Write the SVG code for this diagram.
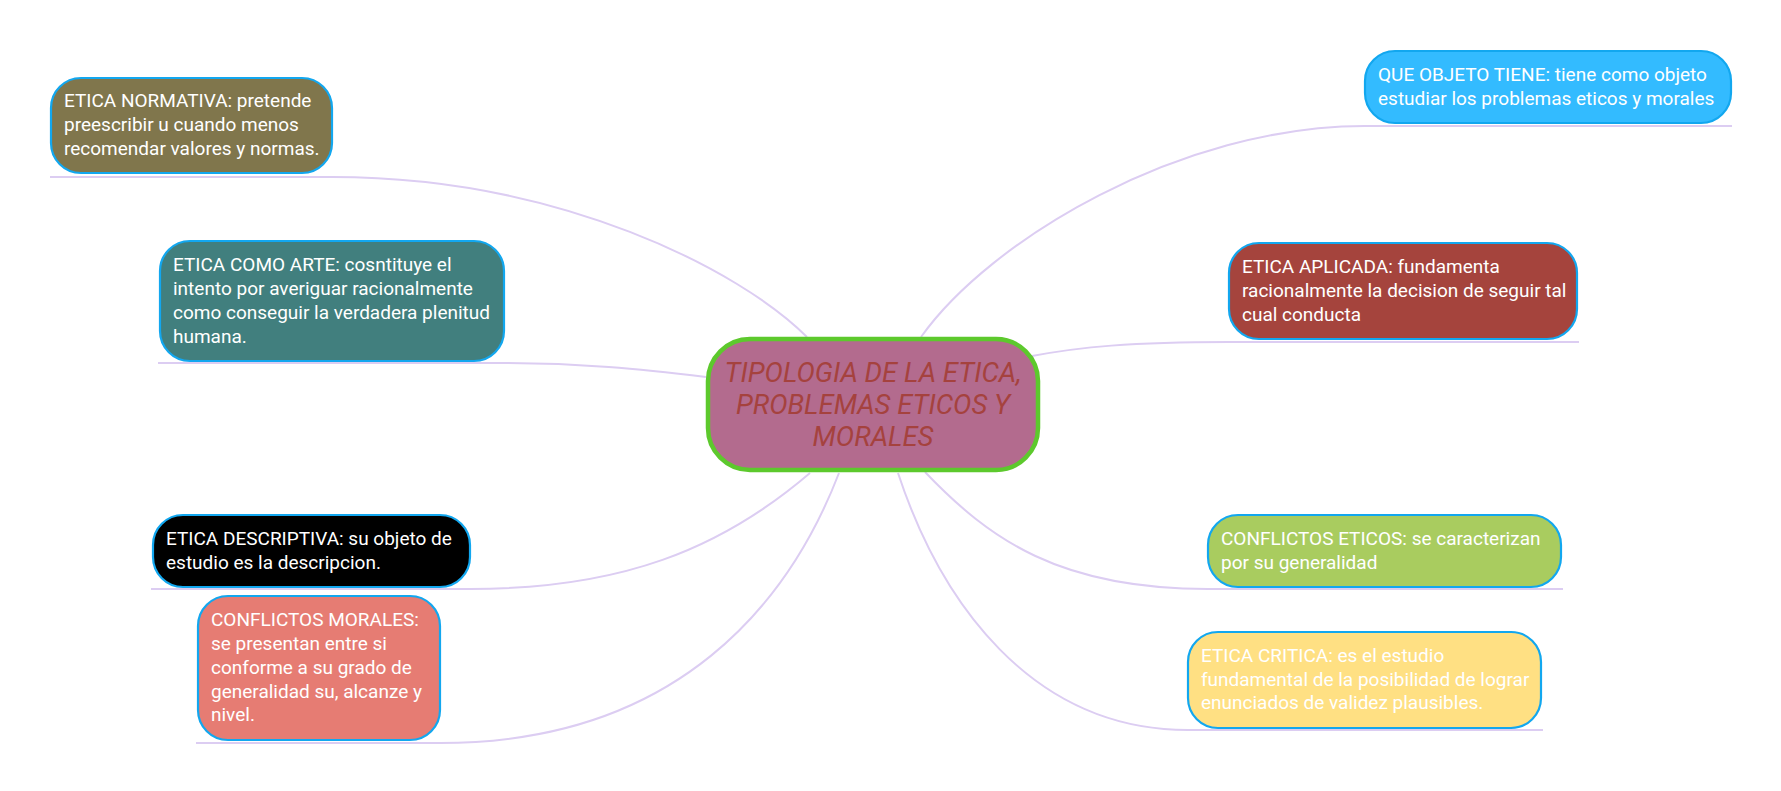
<svg xmlns="http://www.w3.org/2000/svg" width="1781" height="791" viewBox="0 0 1781 791">
<style>
.bg{fill:#ffffff}
.con{fill:none;stroke:#dccdf2;stroke-width:2}
.node{stroke:#12a7ef;stroke-width:2.2}
.t{font-family:Roboto,"Liberation Sans",sans-serif;font-size:19px;fill:#ffffff}
.ct{font-family:Roboto,"Liberation Sans",sans-serif;font-size:27.5px;font-style:italic;fill:#a5423e;text-anchor:middle}
</style>
<rect class="bg" x="0" y="0" width="1781" height="791"/>
<g id="connectors">
<path class="con" d="M807,337 C740,270 560,177 332,177 L50,177"/>
<path class="con" d="M706,377 C640,369 580,363 504,363 L158,363"/>
<path class="con" d="M921,337 C990,240 1180,126 1365,126 L1732,126"/>
<path class="con" d="M1032,356 C1080,347 1130,342 1229,342 L1579,342"/>
<path class="con" d="M810,473 C720,550 620,589 470,589 L151,589"/>
<path class="con" d="M839,473 C790,600 680,743 440,743 L196,743"/>
<path class="con" d="M925,472 C990,540 1060,589 1208,589 L1563,589"/>
<path class="con" d="M898,473 C940,600 1030,730 1188,730 L1543,730"/>
</g>
<g id="central">
<rect x="708" y="339" width="330" height="131" rx="42" fill="#b36b8e" stroke="#5dc92d" stroke-width="4.5"/>
<text class="ct" x="873" y="382">TIPOLOGIA DE LA ETICA,</text>
<text class="ct" x="873" y="414">PROBLEMAS ETICOS Y</text>
<text class="ct" x="873" y="446">MORALES</text>
</g>
<g id="normativa">
<rect class="node" x="51" y="78" width="281" height="95" rx="30" fill="#80764c"/>
<text class="t" x="64" y="107">ETICA NORMATIVA: pretende</text>
<text class="t" x="64" y="131">preescribir u cuando menos</text>
<text class="t" x="64" y="155">recomendar valores y normas.</text>
</g>
<g id="como-arte">
<rect class="node" x="160" y="241" width="344" height="120" rx="30" fill="#417f7e"/>
<text class="t" x="173" y="271">ETICA COMO ARTE: cosntituye el</text>
<text class="t" x="173" y="295">intento por averiguar racionalmente</text>
<text class="t" x="173" y="319">como conseguir la verdadera plenitud</text>
<text class="t" x="173" y="343">humana.</text>
</g>
<g id="que-objeto">
<rect class="node" x="1365" y="51" width="366" height="72" rx="30" fill="#33bbff"/>
<text class="t" x="1378" y="81">QUE OBJETO TIENE: tiene como objeto</text>
<text class="t" x="1378" y="105">estudiar los problemas eticos y morales</text>
</g>
<g id="aplicada">
<rect class="node" x="1229" y="243" width="348" height="96" rx="30" fill="#a5443d"/>
<text class="t" x="1242" y="273">ETICA APLICADA: fundamenta</text>
<text class="t" x="1242" y="297">racionalmente la decision de seguir tal</text>
<text class="t" x="1242" y="321">cual conducta</text>
</g>
<g id="descriptiva">
<rect class="node" x="153" y="515" width="317" height="72" rx="30" fill="#000000"/>
<text class="t" x="166" y="545">ETICA DESCRIPTIVA: su objeto de</text>
<text class="t" x="166" y="569">estudio es la descripcion.</text>
</g>
<g id="conflictos-morales">
<rect class="node" x="198" y="596" width="242" height="144" rx="30" fill="#e67c73"/>
<text class="t" x="211" y="626">CONFLICTOS MORALES:</text>
<text class="t" x="211" y="650">se presentan entre si</text>
<text class="t" x="211" y="674">conforme a su grado de</text>
<text class="t" x="211" y="698">generalidad su, alcanze y</text>
<text class="t" x="211" y="721">nivel.</text>
</g>
<g id="conflictos-eticos">
<rect class="node" x="1208" y="515" width="353" height="72" rx="30" fill="#a9cc5f"/>
<text class="t" x="1221" y="545">CONFLICTOS ETICOS: se caracterizan</text>
<text class="t" x="1221" y="569">por su generalidad</text>
</g>
<g id="critica">
<rect class="node" x="1188" y="632" width="353" height="96" rx="30" fill="#ffe083"/>
<text class="t" x="1201" y="662">ETICA CRITICA: es el estudio</text>
<text class="t" x="1201" y="686">fundamental de la posibilidad de lograr</text>
<text class="t" x="1201" y="709">enunciados de validez plausibles.</text>
</g>
</svg>
